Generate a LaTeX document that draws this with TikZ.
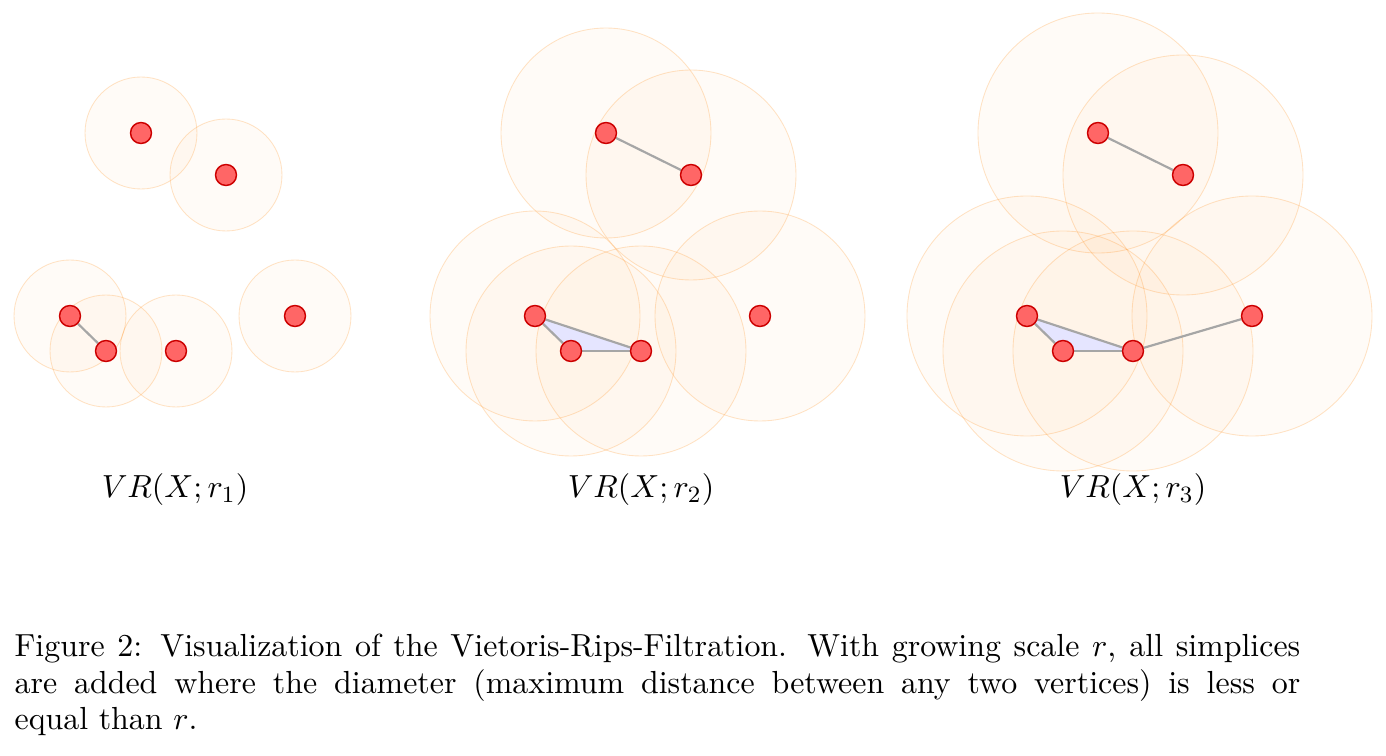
\documentclass[tikz,border=0pt]{standalone}
\pgfdeclarelayer{bg}
\pgfdeclarelayer{mid}
\pgfsetlayers{bg,mid,main}
\begin{document}
\begin{tikzpicture}[x=0.343pt,y=-0.343pt,
  font=\fontsize{10.95pt}{12.35pt}\selectfont,
  vtx/.style={circle,draw=red!80!black,fill=red!60,line width=0.5pt,minimum size=7.2pt,inner sep=0pt},
  ball/.style={draw=orange,draw opacity=0.22,fill=orange,fill opacity=0.03,line width=0.3pt},
  edge/.style={draw=gray!70,line width=0.75pt},
  tri/.style={fill=blue!10}]
\useasboundingbox (0,0) rectangle (1386,756);
\foreach \p/\dx in {1/0,2/465,3/957}{
  \node[vtx] (a\p) at (141+\dx,133) {};
  \node[vtx] (b\p) at (226+\dx,175) {};
  \node[vtx] (c\p) at (70+\dx,316) {};
  \node[vtx] (d\p) at (106+\dx,351) {};
  \node[vtx] (e\p) at (176+\dx,351) {};
  \node[vtx] (f\p) at (295+\dx,316) {};
}
\begin{pgfonlayer}{bg}
\foreach \p/\r in {1/56,2/105,3/120}{
  \foreach \v in {a,b,c,d,e,f}{
    \path[ball] (\v\p.center) circle[radius={\r*0.343pt}];
  }
}
\end{pgfonlayer}
\begin{pgfonlayer}{mid}
\fill[tri] (c2.center) -- (d2.center) -- (e2.center) -- cycle;
\fill[tri] (c3.center) -- (d3.center) -- (e3.center) -- cycle;
\draw[edge] (c1) -- (d1);
\draw[edge] (a2) -- (b2);
\draw[edge] (c2) -- (d2);
\draw[edge] (d2) -- (e2);
\draw[edge] (c2) -- (e2);
\draw[edge] (a3) -- (b3);
\draw[edge] (c3) -- (d3);
\draw[edge] (d3) -- (e3);
\draw[edge] (c3) -- (e3);
\draw[edge] (e3) -- (f3);
\end{pgfonlayer}
\node[anchor=base] (l1) at (175,498) {$VR(X;r_1)$};
\node[anchor=base] (l2) at (641,498) {$VR(X;r_2)$};
\node[anchor=base] (l3) at (1133,498) {$VR(X;r_3)$};
\node[anchor=base west,inner sep=0pt,text width=441pt,align=justify] (cap) at (14,657)
 {Figure 2: Visualization of the Vietoris-Rips-Filtration. With growing scale $r$, all simplices\linebreak are added where the diameter (maximum distance between any two vertices) is less or\linebreak equal than $r$.};
\end{tikzpicture}
\end{document}
